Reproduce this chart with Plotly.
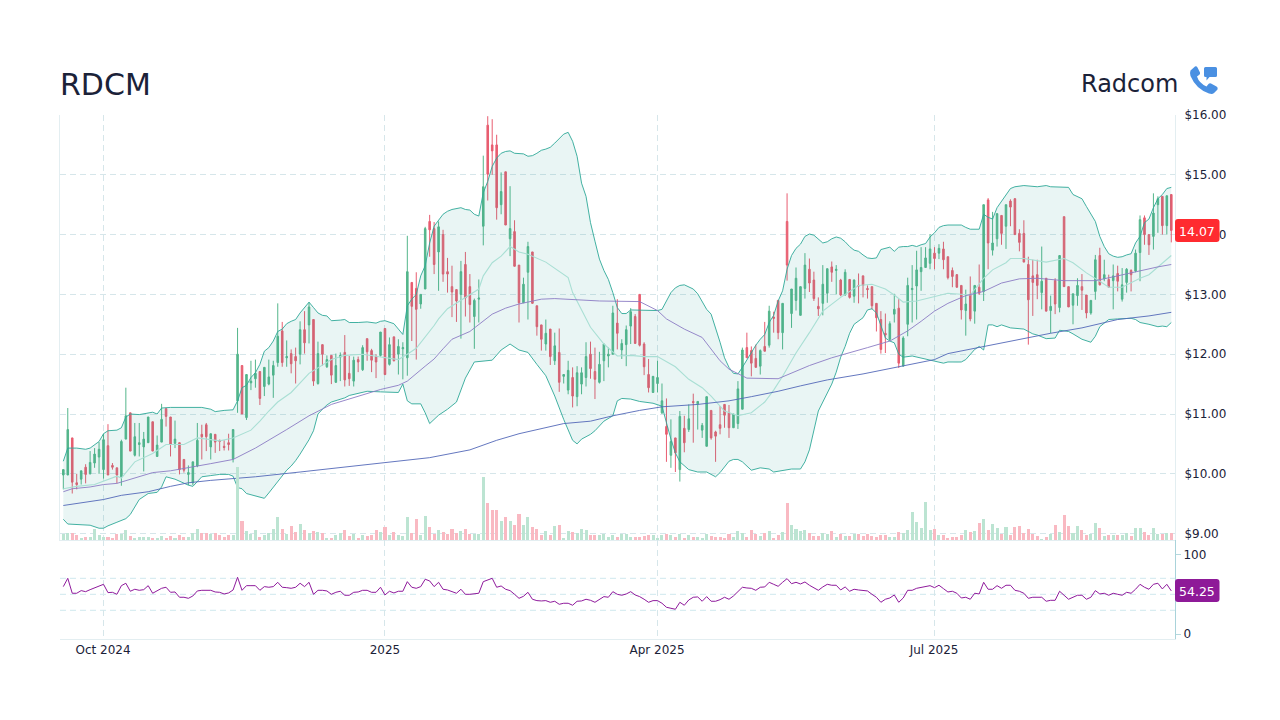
import plotly.graph_objects as go
from plotly.subplots import make_subplots

opens = [9.98,9.98,10.60,9.85,9.91,10.11,10.00,10.18,10.28,10.07,
10.47,10.14,10.10,9.95,10.58,11.02,10.31,10.49,10.45,10.52,
10.87,10.29,10.53,11.09,10.95,10.51,10.52,10.24,9.99,9.85,
10.13,10.66,10.82,10.45,10.66,10.56,10.46,10.52,10.25,11.22,
11.81,10.94,11.52,11.59,11.71,11.46,11.50,11.65,11.86,12.39,
11.94,12.01,11.96,12.00,12.41,12.49,12.58,11.51,12.16,11.79,
11.98,11.53,11.95,12.03,11.68,11.55,11.91,11.74,12.26,12.06,
11.96,11.98,12.43,11.83,12.29,12.00,12.09,11.94,13.20,13.10,
12.84,13.09,14.22,14.10,13.71,14.00,13.38,13.13,13.08,13.00,
13.50,13.13,12.63,12.92,14.14,15.83,15.50,15.50,14.50,15.05,
13.93,14.05,13.49,12.86,13.37,13.71,12.81,12.49,12.17,12.42,
11.89,12.03,11.63,11.40,11.61,11.29,11.50,11.61,12.00,11.71,
11.53,11.89,11.97,12.00,12.52,12.07,12.16,12.47,12.63,13.00,
12.17,11.66,11.36,11.51,11.02,10.79,10.31,10.60,10.07,10.76,
10.74,11.21,11.17,10.73,10.46,11.06,10.70,10.82,11.16,11.02,
10.77,10.84,11.08,12.11,12.06,11.93,11.80,12.13,12.15,12.62,
12.90,12.36,14.22,12.68,12.90,12.65,13.10,13.42,13.24,12.80,
12.85,13.02,13.46,13.40,13.24,12.99,13.25,12.97,13.15,13.31,
13.10,13.13,12.85,12.58,12.35,12.25,12.67,12.77,11.80,12.50,
13.08,13.14,13.38,13.45,13.52,13.69,13.69,13.76,13.63,13.40,
13.33,13.15,12.73,12.99,12.72,13.12,13.05,14.58,13.74,13.93,
14.32,14.14,14.56,14.60,14.02,14.02,13.50,13.31,13.33,13.03,
13.27,12.73,13.23,12.78,14.30,13.13,12.82,12.98,13.13,12.99,
12.69,13.05,13.65,13.26,13.25,13.23,13.35,12.92,13.20,13.40,
13.39,13.70,14.28,14.00,13.97,14.50,14.64,14.15,14.67]

closes = [10.07,10.74,9.86,9.82,10.05,9.99,10.19,10.33,10.41,10.57,
9.98,10.11,9.98,10.54,10.97,10.38,10.62,10.52,10.58,10.95,
10.38,10.48,10.91,10.96,10.49,10.58,10.07,10.06,10.02,10.20,
10.56,10.62,10.62,10.67,10.53,10.54,10.44,10.49,10.74,12.00,
11.00,11.66,11.55,11.68,11.26,11.78,11.62,11.81,12.30,11.86,
11.96,11.84,11.89,12.41,12.19,12.79,11.55,12.01,12.00,11.91,
11.65,11.81,11.98,11.57,11.59,11.90,11.87,12.11,12.04,11.90,
11.87,12.37,11.66,12.16,11.89,12.13,12.11,13.38,12.80,12.75,
13.00,14.10,14.08,13.50,14.13,13.34,13.34,13.04,12.89,13.38,
12.94,12.83,12.90,12.94,14.80,15.01,15.40,14.45,14.72,14.16,
14.10,13.47,12.86,13.17,13.80,12.85,12.46,12.25,12.35,11.96,
12.14,11.53,11.66,11.73,11.30,11.69,11.69,11.96,11.76,11.58,
11.83,12.17,12.00,12.69,12.35,12.18,12.41,12.71,12.18,12.15,
11.79,11.44,11.63,11.61,11.22,10.66,10.54,10.35,10.96,10.52,
10.92,11.19,11.21,10.81,11.29,10.60,10.63,10.76,10.98,10.77,
11.00,11.42,12.07,11.94,11.85,11.78,12.06,12.05,12.72,12.60,
12.36,12.85,13.49,13.09,13.27,13.13,13.49,13.19,12.93,12.76,
13.17,13.43,13.37,13.42,12.99,13.37,12.95,13.24,13.14,13.15,
13.08,12.81,12.61,12.08,12.32,12.51,12.75,11.85,12.27,13.15,
13.10,13.41,13.45,13.61,13.76,13.60,13.77,13.58,13.28,13.30,
13.12,12.74,12.84,12.59,13.15,13.02,14.50,13.86,13.86,14.35,
14.02,14.50,14.46,14.00,13.87,13.54,12.91,13.20,13.15,13.22,
12.72,12.80,12.84,13.65,13.13,12.79,13.01,13.15,13.07,12.69,
12.90,13.58,13.16,13.33,13.12,13.31,13.22,13.16,13.42,13.33,
13.69,14.25,14.00,13.83,14.36,14.60,14.15,14.65,14.07]

highs = [10.07,11.10,10.60,10.00,10.05,10.16,10.38,10.43,10.53,10.67,
10.83,10.18,10.10,10.57,11.44,11.02,10.85,10.85,10.70,10.95,
10.87,10.64,11.17,11.09,10.95,10.89,10.52,10.24,10.14,10.20,
10.85,10.82,10.85,10.67,10.66,10.57,10.56,10.67,10.74,12.44,
11.81,11.66,11.89,11.91,11.71,11.78,11.91,11.89,12.85,12.54,
12.23,12.08,12.11,12.55,12.72,12.87,12.58,12.21,12.16,11.98,
11.98,12.01,12.03,12.32,11.97,11.96,11.96,12.15,12.26,12.09,
12.00,12.37,12.43,12.28,12.29,12.25,12.20,13.98,13.20,13.37,
13.00,14.13,14.33,14.21,14.22,14.08,13.61,13.48,13.08,13.56,
13.71,13.34,12.93,13.25,15.32,15.98,15.93,15.67,15.04,15.05,
14.81,14.24,13.49,13.28,13.88,13.71,12.81,12.49,12.58,12.42,
12.36,12.43,11.66,11.89,11.78,11.80,11.78,12.20,12.21,12.11,
12.04,12.17,12.11,12.81,12.92,12.25,12.48,12.77,12.67,13.00,
12.20,11.92,11.63,11.89,11.51,11.26,10.91,10.60,11.05,10.97,
11.16,11.34,11.21,10.85,11.29,11.06,10.72,11.13,11.16,11.15,
11.00,11.55,12.11,12.36,12.13,12.16,12.08,12.54,12.81,12.71,
12.90,12.85,14.69,13.09,13.45,13.13,13.69,13.60,13.38,12.95,
13.49,13.43,13.55,13.49,13.26,13.42,13.25,13.25,13.35,13.31,
13.15,13.13,12.85,12.72,12.68,12.55,13.01,12.92,12.30,13.28,
13.49,13.73,13.79,13.79,14.01,13.79,13.84,13.88,13.63,13.45,
13.34,13.15,13.08,13.30,13.15,13.50,14.50,14.61,14.38,14.36,
14.32,14.50,14.59,14.61,14.09,14.24,13.63,13.58,13.58,13.80,
13.27,12.98,13.27,13.65,14.30,13.13,13.01,13.27,13.34,12.99,
12.90,13.66,13.78,13.58,13.33,13.50,13.48,13.44,13.44,13.42,
13.75,14.32,14.32,14.00,14.69,14.64,14.64,14.65,14.67]

lows = [9.74,9.98,9.67,9.74,9.82,9.84,9.99,10.10,10.00,9.92,
9.98,10.07,9.84,9.80,10.58,10.38,10.29,10.29,10.04,10.52,
10.38,10.29,10.53,10.79,10.29,10.43,9.99,10.02,9.81,9.81,
10.11,10.24,10.38,10.24,10.35,10.38,10.39,10.39,10.19,11.02,
11.00,10.90,11.40,11.44,11.15,11.30,11.48,11.27,11.79,11.79,
11.79,11.68,11.51,11.83,12.01,12.18,11.47,11.49,11.81,11.77,
11.50,11.52,11.55,11.46,11.47,11.46,11.70,11.72,11.89,11.70,
11.60,11.96,11.65,11.81,11.88,11.66,11.58,11.64,12.22,11.91,
12.76,13.09,13.63,13.34,13.06,13.21,13.03,12.62,12.54,12.26,
12.63,12.53,12.09,12.53,13.82,14.57,15.00,14.25,14.34,14.16,
13.64,13.47,12.53,12.86,12.58,12.85,12.31,12.06,12.06,11.82,
11.82,11.37,11.51,11.33,11.11,11.13,11.33,11.46,11.59,11.25,
11.51,11.55,11.78,12.00,12.08,11.92,11.80,12.17,12.18,12.13,
11.65,11.36,11.36,11.36,11.00,10.20,10.10,10.03,9.87,10.36,
10.70,10.52,10.74,10.60,10.46,10.57,10.20,10.66,10.77,10.60,
10.77,10.75,11.08,11.94,11.63,11.78,11.66,12.05,12.11,12.36,
12.25,12.08,13.23,12.44,12.73,12.65,12.93,13.04,12.89,12.64,
12.65,12.86,13.21,13.00,12.97,12.98,12.93,12.86,12.85,12.95,
12.93,12.75,12.38,12.01,12.02,12.22,12.53,11.77,11.80,12.30,
12.53,12.58,13.06,13.45,13.42,13.42,13.59,13.42,13.25,13.12,
13.11,12.58,12.31,12.55,12.51,12.99,12.89,13.42,13.65,13.80,
13.83,13.76,14.14,14.00,13.72,13.54,12.16,12.64,12.92,12.75,
12.72,12.35,12.67,12.70,13.13,12.79,12.50,12.81,12.74,12.60,
12.66,12.91,13.15,13.22,13.12,12.75,13.05,12.88,13.03,13.05,
13.37,13.22,13.83,13.66,13.75,14.03,14.00,14.00,13.87]

# shares traded, thousands
volumes = [60,70,75,50,20,30,30,110,50,30,30,20,60,60,100,40,20,30,30,30,
20,20,40,20,40,20,50,30,30,70,110,70,70,60,70,50,30,50,50,730,
190,90,60,100,30,50,70,110,230,110,60,140,80,160,100,70,90,80,70,20,
20,50,70,100,40,60,20,50,40,50,100,80,130,50,80,50,40,230,70,210,
50,240,130,60,100,80,60,110,70,90,110,60,60,60,630,370,300,300,190,230,
190,150,260,150,230,130,110,50,90,50,140,150,20,90,80,70,110,100,50,50,
50,60,30,50,
30,60,60,30,30,30,40,50,50,20,50,60,50,30,60,20,50,30,30,20,
60,40,30,30,20,60,30,90,70,30,100,60,40,70,90,20,50,80,370,150,
110,90,100,70,40,40,70,60,90,30,60,40,40,60,60,40,60,40,30,50,
50,30,30,80,70,100,280,180,120,380,100,110,50,50,20,30,30,50,100,80,
90,170,210,100,160,120,60,130,50,130,140,70,110,60,40,10,30,60,150,80,
250,140,70,140,100,50,60,170,120,40,50,50,50,50,70,40,120,120,80,50,
120,60,60,70,70]

rsi = [59.6,70.0,51.3,51.3,54.6,53.3,55.8,58.3,60.0,62.5,52.1,52.5,50.0,60.8,63.8,53.8,56.3,55.0,55.8,60.8,
51.3,54.6,57.5,58.8,52.5,52.9,46.3,46.3,45.0,47.9,54.2,55.0,55.0,55.0,52.9,52.5,50.4,51.7,55.4,71.3,
55.0,60.8,60.8,60.8,55.0,59.6,58.8,59.6,65.0,58.8,58.3,57.5,58.8,63.8,59.6,65.0,50.0,55.0,55.0,54.2,
50.0,52.5,53.8,48.8,48.8,52.5,52.9,55.0,55.0,52.5,52.5,58.8,49.2,53.8,51.7,53.8,53.8,65.8,58.8,57.5,
59.6,68.8,66.7,59.6,65.0,56.3,55.4,53.8,51.3,56.3,50.0,50.0,50.8,51.3,65.8,67.5,70.0,58.8,60.4,56.3,
54.6,50.0,45.0,47.5,52.5,43.8,42.1,41.7,42.1,40.0,41.3,37.5,38.8,38.8,36.3,41.3,41.7,43.8,42.5,40.0,
43.8,47.1,46.3,53.3,
50.0,48.8,50.4,53.3,49.2,47.1,43.8,40.0,42.1,42.1,38.8,33.8,32.5,31.3,40.0,36.3,42.9,46.3,46.7,41.3,
47.1,41.3,41.3,43.3,46.3,43.8,47.9,53.3,58.8,57.9,57.5,55.0,58.8,59.2,65.0,62.5,60.0,65.0,69.6,63.3,
65.0,62.9,65.4,61.3,57.9,55.0,59.2,62.5,61.3,61.3,55.4,59.2,53.8,56.3,55.4,55.0,54.2,50.0,46.3,40.0,
43.8,45.4,49.2,40.0,45.4,55.0,55.0,57.5,58.8,59.6,60.8,58.3,61.3,57.1,52.9,53.8,51.3,45.4,46.3,43.8,
51.3,50.4,65.0,56.3,56.3,60.8,57.5,61.3,61.3,55.0,53.8,51.3,45.0,46.3,46.3,46.3,41.3,42.5,42.5,53.8,
48.8,43.8,46.3,48.8,48.8,43.8,46.3,54.6,50.4,51.3,48.8,51.3,50.0,48.8,52.5,51.3,56.3,62.5,58.8,56.3,
62.5,63.8,56.7,62.5,54.25]

upper_idx = [0,1,3,5,6,8,9,10,12,13,14,15,17,19,20,21,22,24,26,31,33,34,36,38,39,40,41,42,43,44,45,46,47,48,49,50,51,52,53,54,55,56,57,58,59,60,61,62,63,64,66,68,70,71,72,73,74,75,76,
77,78,79,80,81,82,83,84,85,86,87,89,90,91,92,93,94,95,96,97,98,99,100,101,102,103,104,105,106,107,108,109,110,111,112,113,114,115,116,117,118,119,120,121,122,123,
124,125,126,127,128,129,130,131,133,134,135,136,137,138,139,140,141,142,143,144,145,146,147,148,149,150,151,
152,153,154,155,156,157,158,159,160,161,162,163,164,165,166,167,168,169,170,171,172,173,174,175,176,177,178,179,180,181,182,183,184,185,186,187,188,189,190,191,192,193,194,195,196,197,198,
201,202,203,205,206,207,208,209,210,211,212,213,215,218,220,221,224,225,226,228,229,230,231,232,233,234,235,236,237,238,239,240,241,242,243,244,245,246,247,248]
upper_val = [10.21,10.43,10.43,10.41,10.43,10.54,10.67,10.72,10.73,10.77,10.95,11.0,10.99,11.02,11.03,11.0,11.10,11.11,11.11,11.11,11.08,11.04,11.06,11.07,11.22,11.44,11.48,11.61,11.69,11.83,12.05,12.11,12.22,12.38,12.42,12.51,12.55,12.58,12.69,12.78,12.87,12.78,12.69,12.65,12.64,12.56,12.56,12.57,12.58,12.53,12.53,12.54,12.52,12.55,12.56,12.54,12.51,12.42,12.33,
12.81,12.92,13.0,13.31,13.48,13.86,14.14,14.25,14.34,14.39,14.42,14.45,14.42,14.41,14.34,14.31,14.7,14.89,15.14,15.28,15.36,15.39,15.4,15.36,15.35,15.35,15.31,15.32,15.36,15.41,15.43,15.46,15.53,15.6,15.68,15.71,15.56,15.31,14.86,14.64,14.2,13.89,13.59,13.4,13.25,13.03,
12.78,12.68,12.68,12.74,12.74,12.74,12.74,12.74,12.73,12.75,12.89,13.03,13.11,13.15,13.16,13.13,13.09,13.01,12.88,12.75,12.67,12.45,12.2,11.94,11.78,11.68,11.67,
11.78,11.91,12.02,12.15,12.25,12.33,12.53,12.65,12.89,13.06,13.42,13.65,13.77,13.84,13.97,14.01,13.99,13.92,13.86,13.88,13.93,13.96,13.94,13.88,13.8,13.74,13.72,13.66,13.61,13.6,13.61,13.75,13.77,13.79,13.72,13.79,13.8,13.8,13.82,13.8,13.83,13.85,13.96,14.03,14.12,14.15,14.16,
14.16,14.12,14.09,14.09,14.34,14.29,14.26,14.45,14.56,14.67,14.77,14.8,14.82,14.8,14.82,14.8,14.8,14.79,14.67,14.6,14.47,14.34,14.22,13.97,13.8,13.68,13.64,13.62,13.63,13.66,13.68,13.86,13.97,14.2,14.26,14.45,14.6,14.67,14.77,14.79]

lower_idx = [0,1,6,8,9,10,12,14,15,17,19,21,22,23,25,27,28,29,31,33,35,37,38,39,40,41,42,43,44,45,46,47,48,49,50,51,52,53,54,55,56,57,58,59,60,61,62,63,64,66,68,71,73,75,76,77,78,80,81,82,
84,86,88,90,92,94,96,98,100,102,104,106,108,110,112,114,115,116,118,119,121,123,124,125,127,129,132,134,135,136,137,138,140,142,144,146,147,149,150,151,152,154,156,158,159,161,163,165,
166,167,168,169,170,171,172,173,174,175,176,177,178,179,180,181,182,183,184,185,186,187,188,190,193,195,197,198,199,200,201,
202,204,205,206,207,208,209,210,212,215,217,218,220,221,222,223,225,226,228,230,231,232,234,236,239,240,241,243,245,246,247,248]
lower_val = [9.24,9.16,9.14,9.09,9.09,9.13,9.19,9.25,9.32,9.57,9.67,9.69,9.78,9.95,9.91,9.84,9.81,9.79,9.95,9.97,9.99,9.99,9.96,9.77,9.75,9.67,9.65,9.62,9.6,9.59,9.68,9.78,9.88,9.98,10.06,10.13,10.22,10.33,10.45,10.57,10.72,11.0,11.08,11.15,11.2,11.22,11.25,11.27,11.31,11.34,11.38,11.37,11.36,11.36,11.5,11.22,11.17,11.17,11.02,10.84,
10.98,11.08,11.2,11.6,11.87,11.88,11.9,12.07,12.17,12.07,12.03,11.83,11.64,11.3,10.91,10.56,10.5,10.58,10.66,10.72,10.88,10.97,11.22,11.26,11.25,11.21,11.18,11.13,10.85,10.58,10.35,10.2,10.07,10.03,10.03,9.95,10.02,10.21,10.24,10.24,10.2,10.06,10.1,10.08,10.03,10.05,10.08,10.08,
10.2,10.4,10.75,11.05,11.2,11.35,11.5,11.7,11.95,12.13,12.35,12.5,12.55,12.61,12.74,12.76,12.69,12.47,12.27,12.22,12.19,12.0,11.95,11.97,11.92,11.89,11.85,11.87,11.87,11.86,11.87,
11.91,12.08,12.13,12.07,12.49,12.49,12.46,12.49,12.44,12.42,12.34,12.32,12.26,12.26,12.27,12.4,12.38,12.34,12.25,12.2,12.3,12.46,12.58,12.59,12.6,12.58,12.53,12.5,12.46,12.47,12.46,12.53]

mid_idx = [0,3,7,9,12,13,16,20,23,27,30,35,38,42,44,46,48,51,55,60,63,67,71,75,77,79,83,84,86,90,93,94,96,98,100,102,104,108,113,114,116,118,121,124,127,130,133,134,137,140,143,145,148,151,154,157,159,161,164,167,170,174,178,181,184,186,188,191,195,198,203,206,208,211,212,215,220,224,226,229,232,234,237,241,243,246,248]
mid_val = [9.75,9.79,9.82,9.88,9.96,9.93,10.2,10.34,10.49,10.49,10.6,10.55,10.6,10.73,10.88,11.05,11.2,11.36,11.68,11.91,11.98,12.0,11.96,11.91,12.0,12.1,12.48,12.59,12.76,12.95,13.09,13.31,13.53,13.64,13.8,13.71,13.67,13.54,13.28,13.03,12.74,12.45,12.17,11.97,11.98,11.96,11.96,11.92,11.79,11.58,11.44,11.3,11.05,10.97,11.02,11.2,11.4,11.63,12.02,12.36,12.72,12.95,13.15,13.17,13.09,12.99,12.87,12.89,12.97,13.02,12.99,13.27,13.41,13.53,13.6,13.6,13.54,13.6,13.53,13.36,13.22,13.12,13.12,13.27,13.33,13.53,13.65]

sma50_idx = [0,2,6,9,12,17,20,24,28,33,38,43,50,55,60,65,71,75,77,81,83,85,87,91,96,99,102,107,110,115,120,129,131,133,135,139,143,145,147,149,151,153,160,164,167,172,175,180,185,189,192,195,198,202,206,210,214,218,224,231,236,241,245,248]
sma50_val = [9.7,9.75,9.78,9.82,9.84,9.96,10.02,10.05,10.1,10.17,10.24,10.43,10.74,10.97,11.16,11.27,11.41,11.48,11.55,11.8,11.92,12.09,12.25,12.38,12.67,12.77,12.84,12.92,12.93,12.91,12.89,12.88,12.81,12.73,12.59,12.42,12.28,12.08,11.89,11.75,11.68,11.6,11.59,11.71,11.81,11.94,12.0,12.11,12.22,12.39,12.55,12.72,12.85,12.98,13.05,13.19,13.26,13.27,13.23,13.23,13.31,13.4,13.46,13.5]

sma200_idx = [0,6,9,13,19,24,28,33,38,43,53,69,82,91,97,102,112,118,123,129,134,142,149,154,160,165,171,179,186,195,198,206,214,221,228,236,243,248]
sma200_val = [9.47,9.53,9.57,9.64,9.7,9.79,9.85,9.89,9.92,9.95,10.03,10.16,10.27,10.4,10.56,10.67,10.84,10.88,10.97,11.06,11.12,11.16,11.22,11.29,11.38,11.47,11.57,11.67,11.77,11.91,12.01,12.13,12.25,12.35,12.44,12.58,12.64,12.7]

tick_positions = [8.9, 72, 132.9, 194.9]
tick_labels = ["Oct 2024", "2025", "Apr 2025", "Jul 2025"]
price_ticks = [9, 10, 11, 12, 13, 14, 15, 16]

for name, arr in [("opens", opens), ("closes", closes), ("highs", highs), ("lows", lows), ("volumes", volumes), ("rsi", rsi)]:
    assert len(arr) == 249, (name, len(arr))
for a, b in [(upper_idx, upper_val), (lower_idx, lower_val), (mid_idx, mid_val), (sma50_idx, sma50_val), (sma200_idx, sma200_val)]:
    assert len(a) == len(b), (len(a), len(b))

bars = list(range(len(opens)))
INK = "#1b2238"
GRID = "#d6e6ea"
UP, DOWN = "#54b68b", "#e85d70"
FONT = "DejaVu Sans"

fig = make_subplots(rows=2, cols=1, shared_xaxes=True, vertical_spacing=0,
                    row_heights=[425, 99], specs=[[{"secondary_y": True}], [{}]])

# volume underlay
vol_colors = ["#bce4d2" if c >= o else "#f9b9c2" for o, c in zip(opens, closes)]
fig.add_trace(go.Bar(x=bars, y=volumes, marker=dict(color=vol_colors, line_width=0), width=0.68,
                     showlegend=False, hoverinfo="skip"), row=1, col=1, secondary_y=True)

# Bollinger band
fig.add_trace(go.Scatter(x=upper_idx + lower_idx[::-1], y=upper_val + lower_val[::-1], mode="none",
                         fill="toself", fillcolor="rgba(42,157,143,0.10)", showlegend=False, hoverinfo="skip"),
              row=1, col=1)
for xs, ys, color, w in [(upper_idx, upper_val, "#2ea897", 0.9), (lower_idx, lower_val, "#2ea897", 0.9),
                         (mid_idx, mid_val, "#a9dfd4", 1.1), (sma50_idx, sma50_val, "#8b7cc4", 0.9),
                         (sma200_idx, sma200_val, "#5268b8", 0.9)]:
    fig.add_trace(go.Scatter(x=xs, y=ys, mode="lines", line=dict(color=color, width=w), showlegend=False,
                             hoverinfo="skip"), row=1, col=1)

fig.add_trace(go.Candlestick(x=bars, open=opens, high=highs, low=lows, close=closes, showlegend=False,
                             increasing=dict(line=dict(color=UP, width=1), fillcolor=UP),
                             decreasing=dict(line=dict(color=DOWN, width=1), fillcolor=DOWN),
                             whiskerwidth=0), row=1, col=1)

fig.add_trace(go.Scatter(x=bars, y=rsi, mode="lines", line=dict(color="#8f1a9c", width=1), showlegend=False,
                         hoverinfo="skip"), row=2, col=1)

W, H = 1280, 720
L, R, T, B = 60, 1175, 115, 639
def px(x):
    return (x - L) / (R - L)
def py(y):
    return (B - y) / (B - T)

def rounded(x0, y0, x1, y1, r):
    return (f"M{px(x0+r)},{py(y0)} L{px(x1-r)},{py(y0)} Q{px(x1)},{py(y0)} {px(x1)},{py(y0+r)} "
            f"L{px(x1)},{py(y1-r)} Q{px(x1)},{py(y1)} {px(x1-r)},{py(y1)} "
            f"L{px(x0+r)},{py(y1)} Q{px(x0)},{py(y1)} {px(x0)},{py(y1-r)} "
            f"L{px(x0)},{py(y0+r)} Q{px(x0)},{py(y0)} {px(x0+r)},{py(y0)} Z")

def path(cmds):
    out = []
    for c in cmds:
        out.append(c[0] + " ".join(f"{px(c[i])},{py(c[i+1])}" for i in range(1, len(c), 2)))
    return " ".join(out) + " Z"

handset = path([("M", 1190.5, 70.5), ("L", 1195, 66.5), ("Q", 1196.5, 65.8, 1197.5, 67.5), ("L", 1200, 72.5),
                ("Q", 1200.5, 74, 1199, 75), ("L", 1197, 76.5), ("Q", 1199, 83, 1206.5, 86.5), ("L", 1208.5, 84),
                ("Q", 1209.5, 83, 1211, 83.5), ("L", 1216.5, 86.5), ("Q", 1218.3, 87.5, 1217.5, 89.5), ("L", 1214, 93),
                ("Q", 1212.5, 94.5, 1209, 93.5), ("Q", 1196, 89, 1190.5, 76), ("Q", 1189.5, 73, 1190.5, 70.5)])
bubble = path([("M", 1205.5, 67), ("L", 1215.5, 67), ("Q", 1217, 67, 1217, 68.5), ("L", 1217, 75.5),
               ("Q", 1217, 77, 1215.5, 77), ("L", 1209.5, 77), ("L", 1206.5, 80.5), ("L", 1206.5, 77),
               ("L", 1205.5, 77), ("Q", 1204, 77, 1204, 75.5), ("L", 1204, 68.5), ("Q", 1204, 67, 1205.5, 67)])

shapes = [
    dict(type="path", xref="paper", yref="paper", path=handset, fillcolor="#4a90e2", line_width=0),
    dict(type="path", xref="paper", yref="paper", path=bubble, fillcolor="#4a90e2", line_width=0),
    dict(type="path", xref="paper", yref="paper", path=rounded(1175, 219, 1219.5, 242, 3), fillcolor="#ff2b30", line_width=0),
    dict(type="path", xref="paper", yref="paper", path=rounded(1175, 579, 1219.5, 602, 3), fillcolor="#8e1a98", line_width=0),
]

annotations = [
    dict(text="RDCM", xref="paper", yref="paper", x=px(58), y=py(84), xanchor="left", yanchor="middle", showarrow=False,
         font=dict(family=FONT, size=30, color=INK)),
    dict(text="Radcom", xref="paper", yref="paper", x=px(1180), y=py(84), xanchor="right", yanchor="middle", showarrow=False,
         font=dict(family=FONT, size=24, color=INK)),
    dict(text=f"{closes[-1]:.2f}", xref="paper", yref="paper", x=px(1196.5), y=py(231), xanchor="center", yanchor="middle",
         showarrow=False, font=dict(family=FONT, size=12.5, color="white")),
    dict(text=f"{rsi[-1]:.2f}", xref="paper", yref="paper", x=px(1196.5), y=py(591), xanchor="center", yanchor="middle",
         showarrow=False, font=dict(family=FONT, size=12.5, color="white")),
]

fig.update_layout(width=W, height=H, margin=dict(l=L, r=W - R, t=T, b=H - B), autosize=False,
                  paper_bgcolor="white", plot_bgcolor="white", bargap=0, boxgap=0.5,
                  font=dict(family=FONT, size=12, color=INK), shapes=shapes, annotations=annotations,
                  showlegend=False, hovermode=False)

xcommon = dict(domain=[0, 1], range=[-0.74, 248.83], tickmode="array", tickvals=tick_positions, ticktext=tick_labels,
               showgrid=True, gridcolor=GRID, griddash="6px,4px", gridwidth=1, zeroline=False, rangeslider_visible=False)
fig.update_xaxes(**xcommon, row=1, col=1, showticklabels=False, ticks="", showline=True, linecolor="#e3eef1", mirror=False)
fig.update_xaxes(**xcommon, row=2, col=1, showticklabels=True, ticks="", showline=True, linecolor="#e3eef1",
                 tickfont=dict(family=FONT, size=12, color=INK))

fig.update_yaxes(range=[16 - 425 / 59.8, 16], side="right", tickmode="array", tickvals=price_ticks,
                 ticktext=[f"${v:.2f}" for v in price_ticks], showgrid=True, gridcolor=GRID, griddash="6px,4px",
                 gridwidth=1, zeroline=False, ticks="outside", ticklen=6, tickcolor="rgba(0,0,0,0)",
                 showline=True, linecolor="#e3eef1", mirror=True, row=1, col=1, secondary_y=False,
                 tickfont=dict(family=FONT, size=12, color=INK))
fig.update_yaxes(range=[0, 4250], visible=False, showgrid=False, row=1, col=1, secondary_y=True)
fig.update_yaxes(range=[-5.9, 117.9], side="right", tickmode="array", tickvals=[0, 100], showgrid=False,
                 zeroline=False, ticks="outside", ticklen=5, tickcolor="#b5d8de", showline=True, linecolor="#a9d3da",
                 row=2, col=1, tickfont=dict(family=FONT, size=12, color=INK))
for level in [30, 50, 70]:
    fig.add_hline(y=level, line=dict(color="#cfe8ee", width=1, dash="6px,4px"), row=2, col=1, layer="below")

fig.write_html("out.html", config={"displayModeBar": False}, post_script="document.body.style.margin='0';")
